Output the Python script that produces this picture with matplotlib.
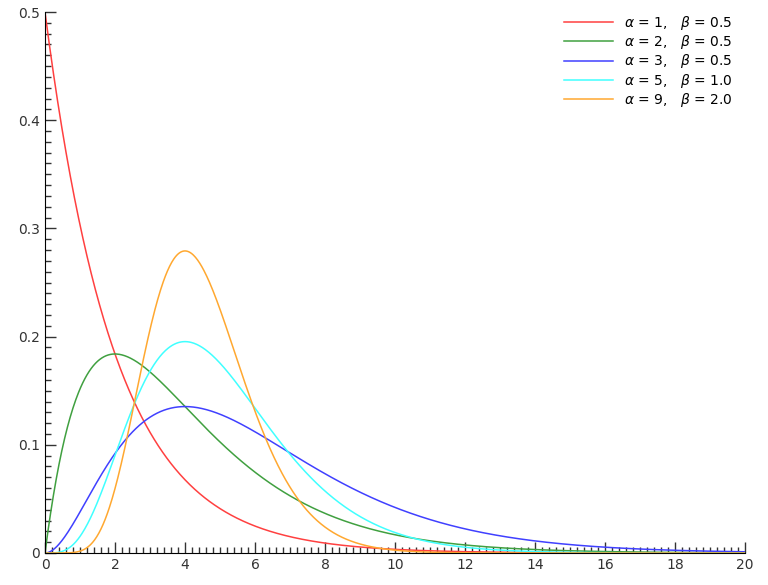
import numpy as np
import matplotlib
matplotlib.use("Agg")
import matplotlib.pyplot as plt
from matplotlib.ticker import MultipleLocator
from math import gamma as G

alphas = [1, 2, 3, 5, 9]
betas = [0.5, 0.5, 0.5, 1.0, 2.0]
colors = ["#ff4040", "#40a040", "#4040ff", "#40ffff", "#ffa830"]
labels = [r"$\alpha$ = 1,   $\beta$ = 0.5", r"$\alpha$ = 2,   $\beta$ = 0.5",
          r"$\alpha$ = 3,   $\beta$ = 0.5", r"$\alpha$ = 5,   $\beta$ = 1.0",
          r"$\alpha$ = 9,   $\beta$ = 2.0"]

fig = plt.figure(figsize=(7.68, 5.85), dpi=100)
ax = fig.add_axes([45/768, 1-553/585, 700/768, 541/585])
x = np.linspace(0, 20, 1001)
for a, b, c, l in zip(alphas, betas, colors, labels):
    y = b**a * x**(a-1) * np.exp(-b*x) / G(a)
    ax.plot(x, y, color=c, lw=1.1, label=l)
ax.set_xlim(0, 20)
ax.set_ylim(0, 0.5)
for s in ["top", "right"]:
    ax.spines[s].set_visible(False)
ax.xaxis.set_major_locator(MultipleLocator(2))
ax.xaxis.set_minor_locator(MultipleLocator(0.2))
ax.yaxis.set_major_locator(MultipleLocator(0.1))
ax.yaxis.set_minor_locator(MultipleLocator(0.01))
ax.set_yticks([0, 0.1, 0.2, 0.3, 0.4, 0.5])
ax.set_yticklabels(["0", "0.1", "0.2", "0.3", "0.4", "0.5"])
ax.tick_params(which="major", direction="in", length=8, width=1, labelsize=10, colors="#333333")
ax.tick_params(which="minor", direction="in", length=4, width=1, color="#333333")
ax.legend(loc="upper right", frameon=False, fontsize=10, handlelength=3.5, labelspacing=0.1, bbox_to_anchor=(1.0, 1.02))
fig.savefig("out.png", dpi=100)
